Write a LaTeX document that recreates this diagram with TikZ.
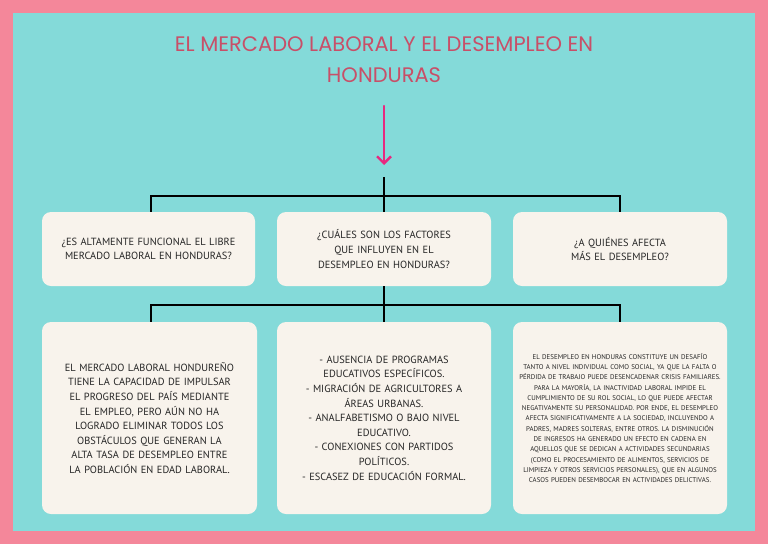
\documentclass[tikz,border=0pt]{standalone}
\usepackage{fontspec}
\setmainfont{PT Sans}
\newfontfamily\titlefont{Poppins}
\usetikzlibrary{arrows.meta}
\hyphenpenalty=10000
\exhyphenpenalty=10000
\definecolor{bgpink}{HTML}{F4879A}
\definecolor{teal}{HTML}{84DAD9}
\definecolor{card}{HTML}{F8F3EC}
\definecolor{titlec}{HTML}{C84F68}
\definecolor{arrowc}{HTML}{E8287F}
\begin{document}
\begin{tikzpicture}[x=1pt,y=-1pt,
  card/.style={fill=card,rounded corners=9pt,inner sep=3pt,align=center,font=\fontsize{10.4}{14.6}\selectfont,text=black!85},
  conn/.style={line width=2.2pt,black}]
\useasboundingbox (0,0) rectangle (768,544);
\fill[bgpink] (0,0) rectangle (768,544);
\fill[teal] (13,13) rectangle (755,531);
\node[font=\titlefont\fontsize{21}{31}\selectfont,text=titlec,align=center] (title) at (384,60) {EL MERCADO LABORAL Y EL DESEMPLEO EN\\HONDURAS};
\coordinate (as) at (384,106);
\coordinate (ae) at (384,165);
\draw[arrowc,line width=2.4pt,line cap=round,-{Straight Barb[length=7pt,width=14pt]}] (as) -- (ae);
% row 1
\node[card,minimum width=213pt,minimum height=74pt,text width=180pt] (q1) at (148.5,249) {¿ES ALTAMENTE FUNCIONAL EL LIBRE MERCADO LABORAL EN HONDURAS?};
\node[card,minimum width=214pt,minimum height=74pt,text width=200pt] (q2) at (384,249) {¿CUÁLES SON LOS FACTORES QUE INFLUYEN EN EL DESEMPLEO EN HONDURAS?};
\node[card,minimum width=214pt,minimum height=74pt,text width=170pt] (q3) at (620,249) {¿A QUIÉNES AFECTA MÁS EL DESEMPLEO?\\[14pt]};
% row 2
\node[card,minimum width=215pt,minimum height=192pt,text width=182pt] (a1) at (149.5,418) {EL MERCADO LABORAL HONDUREÑO TIENE LA CAPACIDAD DE IMPULSAR EL PROGRESO DEL PAÍS MEDIANTE EL EMPLEO, PERO AÚN NO HA LOGRADO ELIMINAR TODOS LOS OBSTÁCULOS QUE GENERAN LA ALTA TASA DE DESEMPLEO ENTRE LA POBLACIÓN EN EDAD LABORAL.};
\node[card,minimum width=214pt,minimum height=192pt,text width=205pt] (a2) at (384,418) {- AUSENCIA DE PROGRAMAS\\EDUCATIVOS ESPECÍFICOS.\\- MIGRACIÓN DE AGRICULTORES A\\ÁREAS URBANAS.\\- ANALFABETISMO O BAJO NIVEL\\EDUCATIVO.\\- CONEXIONES CON PARTIDOS\\POLÍTICOS.\\- ESCASEZ DE EDUCACIÓN FORMAL.};
\node[card,minimum width=214pt,minimum height=192pt,text width=212pt,inner sep=1pt,font=\fontsize{6.9}{10.3}\selectfont] (a3) at (620,418) {EL DESEMPLEO EN HONDURAS CONSTITUYE UN DESAFÍO TANTO A NIVEL INDIVIDUAL COMO SOCIAL, YA QUE LA FALTA O PÉRDIDA DE TRABAJO PUEDE DESENCADENAR CRISIS FAMILIARES. PARA LA MAYORÍA, LA INACTIVIDAD LABORAL IMPIDE EL CUMPLIMIENTO DE SU ROL SOCIAL, LO QUE PUEDE AFECTAR NEGATIVAMENTE SU PERSONALIDAD. POR ENDE, EL DESEMPLEO AFECTA SIGNIFICATIVAMENTE A LA SOCIEDAD, INCLUYENDO A PADRES, MADRES SOLTERAS, ENTRE OTROS. LA DISMINUCIÓN DE INGRESOS HA GENERADO UN EFECTO EN CADENA EN AQUELLOS QUE SE DEDICAN A ACTIVIDADES SECUNDARIAS (COMO EL PROCESAMIENTO DE ALIMENTOS, SERVICIOS DE LIMPIEZA Y OTROS SERVICIOS PERSONALES), QUE EN ALGUNOS CASOS PUEDEN DESEMBOCAR EN ACTIVIDADES DELICTIVAS.};
% connectors
\coordinate (t1) at (384,177);
\coordinate (h1) at (384,196);
\draw[conn] (t1) -- (q2.north);
\draw[conn] (q1.north -| 151,0) |- (h1) -| (q3.north);
\coordinate (h2) at (384,305);
\draw[conn] (q2.south) -- (a2.north);
\draw[conn] (a1.north -| 151,0) |- (h2) -| (a3.north);
\end{tikzpicture}
\end{document}
